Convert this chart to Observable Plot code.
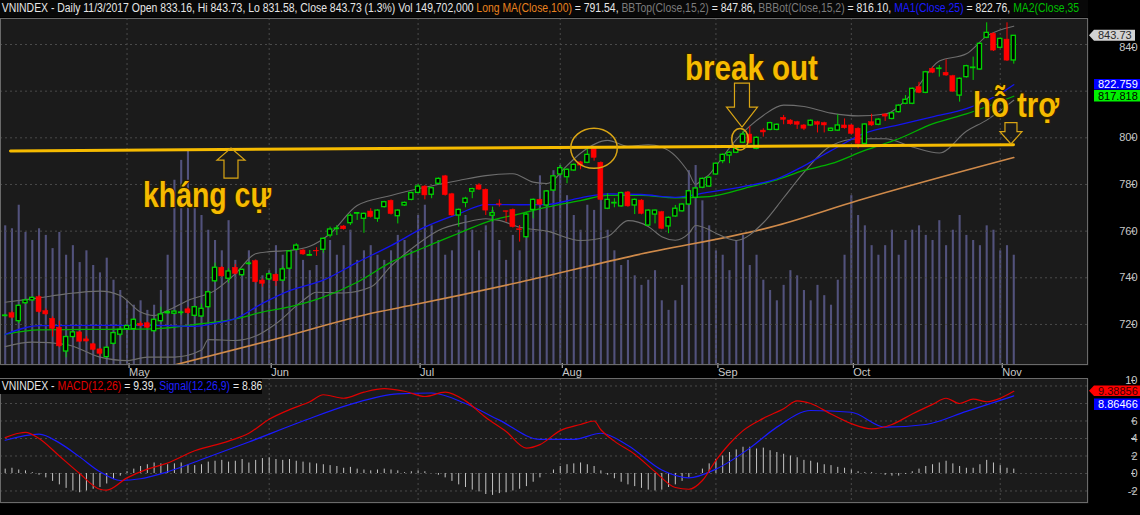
<!DOCTYPE html>
<html><head><meta charset="utf-8">
<script src="https://cdn.jsdelivr.net/npm/d3@7"></script>
<script src="https://cdn.jsdelivr.net/npm/@observablehq/plot@0.6"></script>
<style>
html,body{margin:0;padding:0;background:#000;}
#wrap{position:relative;width:1140px;height:515px;overflow:hidden;background:#000;}
.layer{position:absolute;left:0;}
.hdr{position:absolute;left:0;overflow:hidden;clip-path:inset(0 0 0 0);white-space:nowrap;font-family:'Liberation Sans',Arial,sans-serif;font-size:12px;color:#e6e6e6;}
.hdr .in{transform-origin:0 0;display:inline-block;padding-left:2px;}
</style></head>
<body><div id="wrap">
<div id="vol" class="layer" style="top:0"></div>
<div id="main" class="layer" style="top:0"></div>
<div id="macd" class="layer" style="top:378px"></div>
<div class="hdr" style="top:0;width:1088px;height:17px;line-height:17px;background:#080808;">
 <div class="in" style="transform:scaleX(0.868)">VNINDEX - Daily 11/3/2017 Open 833.16, Hi 843.73, Lo 831.58, Close 843.73 (1.3%) Vol 149,702,000 <span style="color:#e8821e">Long MA(Close,100)</span> = 791.54, <span style="color:#7c7c7c">BBTop(Close,15,2)</span> = 847.86, <span style="color:#7c7c7c">BBBot(Close,15,2)</span> = 816.10, <span style="color:#1c1cff">MA1(Close,25)</span> = 822.76, <span style="color:#00c000">MA2(Close,35</span></div>
</div>
<div class="hdr" style="top:379px;width:262px;height:15px;line-height:15px;background:#000;">
 <div class="in" style="transform:scaleX(0.87)">VNINDEX - <span style="color:#e00000">MACD(12,26)</span> = 9.39, <span style="color:#2020ff">Signal(12,26,9)</span> = 8.86</div>
</div>
</div>
<script>
const FONT = "'Liberation Sans', Arial, sans-serif";
const GREEN = "#00d400", RED = "#ff0000";

// ---------- data ----------
const open = [723.6,724.8,721.4,729.1,730.3,731.7,725.7,722.4,718.6,708.4,
714.6,716.6,713.6,711.5,709.3,706.0,711.7,715.6,718.0,718.0,
720.3,720.5,717.1,721.4,724.8,724.6,724.9,726.5,723.7,723.4,
727.4,738.5,744.3,739.6,744.3,741.1,745.9,747.1,738.8,739.3,
741.3,738.8,743.9,752.0,751.7,749.5,751.5,752.0,758.1,760.9,
762.0,763.4,767.5,765.3,768.4,765.3,770.3,773.0,766.4,771.0,
773.4,776.4,779.1,775.6,780.3,783.5,775.8,766.7,772.1,776.9,
779.6,777.7,766.6,771.5,768.5,769.1,760.8,757.4,769.1,773.4,
771.0,777.4,784.3,783.1,786.0,789.5,789.3,795.3,789.3,769.6,
771.9,770.6,776.6,771.0,773.1,762.4,767.1,768.1,762.0,766.3,
768.5,771.4,774.3,778.6,779.1,784.3,790.0,792.4,793.6,797.9,
801.4,795.3,803.1,803.4,803.4,808.6,807.4,806.7,805.3,805.3,
806.7,806.3,803.0,803.1,805.3,805.3,803.9,797.4,806.7,805.6,
810.0,808.1,811.0,814.6,814.6,821.7,819.3,829.6,829.5,827.9,
826.4,818.1,826.0,829.9,829.3,842.9,844.6,838.6,842.1,833.16];
const high = [724.3,725.7,728.3,730.8,731.7,732.4,726.7,723.2,721.4,715.0,
717.0,717.0,714.8,711.9,709.7,710.4,716.6,718.6,719.8,722.4,
721.1,721.0,722.4,727.4,725.8,726.0,725.8,727.4,727.8,728.7,
734.2,746.3,744.8,743.9,745.7,743.8,746.8,747.6,739.5,742.0,
741.7,744.5,751.7,754.6,752.1,751.7,752.9,757.1,761.7,762.4,
762.4,767.4,767.9,767.8,769.6,769.2,772.8,773.4,769.2,772.5,
776.7,780.0,779.5,778.8,782.8,783.9,776.2,769.5,774.5,778.4,
780.3,778.1,770.3,773.4,768.6,769.5,762.4,767.5,773.8,773.8,
777.4,783.9,788.1,786.7,788.8,789.9,795.3,795.7,789.7,776.0,
773.9,776.7,777.0,773.8,773.5,769.2,769.1,768.5,766.1,771.0,
771.8,777.5,778.7,782.8,783.3,789.3,793.1,794.0,795.7,802.8,
804.8,800.4,803.9,806.7,806.0,809.6,807.8,807.1,805.7,807.7,
807.1,806.7,804.3,809.9,808.1,805.7,804.3,806.1,810.1,808.2,
810.4,810.9,814.2,818.1,821.4,823.8,828.5,830.3,831.0,833.4,
826.8,825.7,831.1,834.6,840.7,849.3,845.0,842.8,849.3,843.73];
const low = [723.2,722.4,720.3,728.5,730.0,724.8,723.8,714.6,710.0,705.7,
714.2,712.2,712.4,708.7,706.3,705.6,711.3,714.6,717.6,717.6,
719.1,718.2,716.8,721.0,724.4,724.2,723.8,724.3,723.3,723.0,
727.0,738.0,740.2,737.7,741.3,740.7,745.3,737.7,736.0,738.9,
736.3,738.4,743.5,751.4,749.6,749.2,749.2,750.5,757.1,758.1,
760.4,762.4,764.6,759.1,765.6,763.8,769.9,766.9,763.1,770.6,
773.0,776.0,773.4,773.9,779.9,775.0,766.3,761.7,770.0,773.9,
777.4,766.7,763.8,770.3,763.8,761.3,755.3,757.0,765.3,770.9,
770.6,777.0,783.7,780.3,785.6,786.3,788.9,790.0,773.0,769.2,
770.0,770.2,770.2,767.1,767.0,762.0,763.1,760.6,758.9,765.9,
768.1,771.0,773.9,778.2,778.7,783.9,788.9,788.9,793.2,797.5,
797.3,794.9,800.3,803.0,803.0,805.6,805.4,803.6,803.1,804.9,
802.1,802.1,802.6,802.7,803.7,801.3,795.3,797.0,804.9,805.2,
807.0,807.7,810.6,814.2,814.2,818.9,818.9,827.5,826.0,826.3,
819.4,815.3,825.6,824.6,828.9,842.5,837.0,838.2,832.7,831.58];
const close = [723.8,722.9,728.0,730.3,731.4,725.3,724.3,718.1,710.6,714.6,
716.6,712.6,712.7,709.1,707.4,710.0,716.3,717.7,719.3,722.0,
719.4,718.6,722.0,724.3,725.3,725.5,725.1,724.8,727.4,726.7,
733.8,744.3,740.6,742.7,741.7,743.4,746.1,738.1,737.4,741.5,
738.5,743.6,751.3,753.8,750.0,749.7,751.3,756.7,760.7,761.1,
760.8,766.6,767.7,767.4,766.0,768.8,772.4,767.3,768.8,772.1,
776.3,779.1,775.3,778.4,782.4,775.4,766.7,769.1,773.9,778.0,
777.8,768.8,767.7,771.3,768.3,761.7,760.4,767.1,773.4,771.3,
777.0,783.5,787.0,786.3,788.4,788.1,792.7,791.4,773.4,773.4,
772.1,776.3,770.6,773.4,767.4,768.8,768.8,761.0,765.7,769.6,
771.4,777.1,778.3,782.4,782.9,788.9,792.7,793.6,795.3,801.4,
797.7,800.0,802.3,806.3,805.6,807.7,805.8,805.6,803.9,807.3,
805.6,805.3,803.9,805.3,804.1,801.7,797.4,805.7,805.3,807.8,
809.1,810.5,813.8,816.3,821.0,819.3,828.1,827.9,829.7,826.7,
819.8,825.3,830.7,830.1,840.3,845.0,837.4,842.4,833.1,843.73];
// volume, millions of shares
const volume = [190,186,218,181,170,186,177,159,181,150,163,140,156,136,126,146,116,102,
88,82,88,75,82,102,150,252,279,292,224,204,184,170,156,197,143,129,
156,143,122,129,163,150,136,156,143,129,136,156,170,150,163,184,143,156,
163,150,143,156,177,170,156,204,218,190,170,150,156,184,204,184,156,190,
211,170,143,177,156,184,211,258,238,265,272,231,204,184,218,211,265,184,
156,136,143,122,109,116,129,88,75,88,109,265,272,224,190,156,150,129,
170,177,136,150,116,102,88,109,129,122,102,88,109,95,82,116,150,231,
204,190,163,150,163,184,150,170,184,190,177,170,197,163,184,204,177,170,
163,190,184,156,163,150];
// indicator lines, [candle index, value]
const ma1 = [[0,715.7],[5,719.5],[15,719.6],[22,719.6],[28,719.2],[31,720.5],[34,722.5],[38,729],[42,734.5],[47,739],[52,746.6],[57,753.8],[62,761.7],[67,767.4],[71,771.4],[76,771.3],[80,771.4],[85,774.3],[89,776],[94,775.7],[99,774.5],[104,776.7],[109,779.1],[114,782.4],[118,788],[122,794.5],[127,802],[132,805.6],[137,809],[142,812.5],[147,819],[149,822.76]];
const ma2 = [[0,715.8],[5,717.7],[15,717.9],[22,718.1],[29,720.3],[34,722.4],[38,725.3],[42,727.5],[47,731.7],[52,738.1],[57,746.7],[62,753.1],[67,759.1],[71,763.8],[76,767.4],[80,770.3],[85,773.1],[89,775.3],[94,775.3],[99,774.3],[104,774.8],[110,779],[114,782],[118,786],[122,788.9],[127,794.6],[132,799.6],[137,806],[142,810.3],[149,817.82]];
const longMA = [[25,702.6],[39,713],[55,725.3],[60,728.2],[76,738.1],[93,749.6],[114,762.4],[126,773.1],[149,791.54]];
const bbTop = [[0,729.5],[5,731.4],[9,733.1],[14,734.3],[17,732.4],[20,725.3],[22,723.8],[24,726],[27,730.3],[31,734.6],[34,741.7],[37,750.3],[39,751.2],[42,751.7],[45,753.5],[48,758.9],[52,771],[57,775.3],[62,778.8],[67,781.7],[71,783.8],[75,784.6],[78,781],[80,780.4],[83,788.1],[85,793.4],[89,798.9],[92,796.4],[95,797],[97,796],[99,792.3],[100,789],[101,785],[102,780],[103,782.2],[104,784.2],[105,787.9],[108,799.2],[110,805],[112,809.6],[115,814],[118,813.4],[122,810.6],[126,809.4],[130,810.2],[134,819],[138,832.9],[142,836],[145,843.6],[149,847.86]];
const bbBot = [[0,710.5],[4,712.4],[9,711.4],[14,706],[18,704.5],[21,706],[25,706],[29,709],[30,713.5],[34,713.1],[37,715],[40,720.3],[44,730.3],[46,733.8],[50,733.5],[54,736],[57,745],[61,754.6],[64,760.3],[68,763.8],[71,765.3],[73,764.6],[76,761.7],[80,760],[85,756],[89,757.7],[92,764.5],[95,762],[97,757.6],[99,756.1],[101,759],[102,762.4],[104,760.6],[105,759.1],[108,756],[112,763.6],[115,774.3],[118,785.2],[122,796.6],[126,799.6],[130,799.6],[134,796.1],[138,793.5],[142,802.8],[145,807.6],[149,816.1]];
const macdLine = [[0,4.1],[2,4.6],[3,4.7],[5,4.0],[8,2.0],[11,0.0],[14,-1.8],[15,-1.9],[18,-0.5],[21,0.5],[24,1.2],[28,2.6],[33,3.7],[36,4.6],[39,6.2],[42,7.3],[45,8.2],[47,9.0],[50,8.6],[53,9.3],[56,9.7],[59,9.4],[62,8.8],[65,9.3],[68,8.3],[71,6.4],[74,4.8],[77,2.9],[79,3.3],[82,4.9],[85,5.6],[87,6.0],[88,5.0],[90,3.7],[93,2.2],[96,0.2],[99,-1.6],[101,-1.8],[103,-0.8],[105,1.5],[107,3.4],[109,4.9],[112,6.3],[115,7.4],[117,8.3],[119,8.0],[122,6.8],[125,5.7],[128,5.1],[131,5.6],[134,6.8],[137,7.9],[139,8.6],[141,8.0],[143,8.5],[145,8.2],[147,8.6],[149,9.38856]];
const signalLine = [[0,3.8],[5,4.5],[8,3.5],[11,1.9],[14,0.2],[17,-0.8],[20,-0.6],[24,0.2],[29,1.6],[36,3.6],[44,6.0],[51,7.9],[58,9.1],[63,9.2],[68,8.0],[73,6.1],[79,3.9],[84,3.9],[88,4.6],[92,3.2],[97,0.4],[101,-0.5],[105,0.5],[110,2.9],[114,5.3],[119,7.2],[125,7.0],[130,5.3],[136,5.6],[142,7.1],[149,8.86466]];
const histogram = [0.5,0.6,0.4,0.3,0.1,-0.2,-0.5,-0.9,-1.3,
-1.7,-2.0,-2.2,-2.0,-1.8,-1.6,-1.2,-0.7,-0.3,
0.2,0.5,0.8,1.0,1.2,1.1,1.0,1.1,1.2,1.0,0.9,1.0,1.3,
1.4,1.5,1.3,1.4,1.6,1.2,1.5,1.7,1.8,1.6,1.5,1.6,1.4,1.3,1.2,
1.1,1.0,0.9,0.8,0.6,0.7,0.5,0.4,0.3,0.4,0.5,0.4,0.3,0.1,0.2,
0.3,0.2,0.0,-0.2,-0.5,-0.9,-1.3,-1.6,-1.9,-2.1,-2.4,-2.5,-2.3,-2.2,-2.0,
-1.8,-1.5,-1.0,-0.5,0.0,0.4,0.8,1.0,1.1,1.2,1.0,0.8,0.3,-0.2,-0.6,
-1.0,-1.3,-1.5,-1.7,-1.9,-2.0,-1.9,-1.6,-1.3,-0.9,-0.5,0.0,0.5,1.1,
1.6,2.0,2.4,2.7,3.0,3.0,2.8,2.9,2.6,2.4,2.2,2.0,1.8,1.5,1.4,1.2,
1.0,0.9,0.7,0.6,0.4,0.2,0.1,0.1,0.0,-0.2,-0.3,-0.3,-0.1,0.2,0.5,
0.8,1.0,1.2,1.4,1.1,0.8,0.6,0.6,1.0,1.5,1.2,0.9,0.6,0.5];
const monthIdx = [18,39,61,82,105,125,147];
const monthNames = ["May","Jun","Jul","Aug","Sep","Oct","Nov"];
const priceTicks = [720,740,760,780,800,820,840];
const priceLabelTicks = [720,740,760,780,800];   // 820 sits under the MA boxes
const priceTopTick = [840];                      // partly under the close box
const macdTicks = [-2,0,2,4,6,8,10];
const macdLabelTicks = [-2,0,2,4,6];             // 8 sits under the signal box
const macdTopTick = [10];
const lastValues = {close: 843.73, ma1: 822.759, ma2: 817.818, macd: 9.38856, signal: 8.86466};
// annotations (anchored in data units)
const resistance = [[0.78,794.34],[43.6,795.2],[95.3,796.06],[117.5,796.49],[148.96,797.0]];
const arrowTips = [{i:33.43,v:795.41,dir:"up"},{i:108.92,v:804.41,dir:"down"},{i:148.66,v:797.13,dir:"down"}];
const rings = [{i:87.06,v:795.29},{i:108.63,v:799.19}];
const notes = [{i:20.43,v:770.13,text:"kháng cự"},{i:100.5,v:824.56,text:"break out"},{i:143.05,v:808.83,text:"hỗ trợ"}];

// ---------- styles ----------
const X_DOMAIN = [-0.694, 160.04];
const arrowSize = [{hw:14,hh:12,sw:7,sl:18},{hw:15.5,hh:20,sw:7.5,sl:24},{hw:11,hh:12.3,sw:6,sl:9}];
const ringSize = [{rx:23.3,ry:20},{rx:8.3,ry:10.8}];
const noteWidth = [128,133,86];
const GOLD = "#f6bb00", ARROW = "#d9a514";
const axisStyle = {anchor: "right", label: null, tickSize: 4, tickPadding: 3, textAnchor: "end", dx: 42, color: "#c8c8c8", fontSize: 11, tickFormat: d => String(d)};

const pts = a => a.map(([i, v]) => ({i, v}));
const candles = open.map((o, i) => ({i, o, h: high[i], l: low[i], c: close[i]}));
const upC = candles.filter(d => d.c >= d.o), dnC = candles.filter(d => d.c < d.o);

function borders(index, scales, values, dims) {
  const {width, height, marginLeft, marginRight, marginTop, marginBottom} = dims;
  const g = d3.create("svg:g").attr("fill", "none").attr("stroke", "#6a6a6a");
  g.append("rect").attr("x", marginLeft + 0.5).attr("y", marginTop + 0.5)
    .attr("width", width - marginLeft - marginRight - 1).attr("height", height - marginTop - marginBottom - 1);
  return g.node();
}
function sideLabels(specs) {
  return (index, scales, values, dims) => {
    const g = d3.create("svg:g").attr("font-family", FONT).attr("font-size", 11).attr("text-anchor", "start");
    const xR = dims.width - dims.marginRight;
    for (const s of specs) {
      const yc = scales.y(s.value) + (s.dy || 0);
      const t = yc - s.h / 2, b = yc + s.h / 2, xa = xR + 6, xb = xR + s.w;
      const d = s.arrow ? `M${xR + 1},${yc}L${xa},${t}H${xb}V${b}H${xa}Z` : `M${xa},${t}H${xb}V${b}H${xa}Z`;
      g.append("path").attr("d", d).attr("fill", s.fill).attr("stroke", s.stroke || "none");
      g.append("text").attr("x", xR + 10).attr("y", yc).attr("dy", "0.36em").attr("text-anchor", "start").attr("fill", s.color).text(s.text);
    }
    return g.node();
  };
}
function annotations(index, {x, y}) {
  const g = d3.create("svg:g").attr("text-anchor", "start");
  arrowTips.forEach((a, k) => {
    const s = arrowSize[k], tx = x(a.i), ty = y(a.v), dir = a.dir === "up" ? 1 : -1;
    const hy = ty + dir * s.hh, sy = hy + dir * s.sl;
    g.append("path").attr("fill", "none").attr("stroke", ARROW).attr("stroke-width", 1.2)
      .attr("d", `M${tx},${ty}L${tx + s.hw},${hy}L${tx + s.sw},${hy}L${tx + s.sw},${sy}L${tx - s.sw},${sy}L${tx - s.sw},${hy}L${tx - s.hw},${hy}Z`);
  });
  rings.forEach((r, k) => {
    g.append("ellipse").attr("cx", x(r.i)).attr("cy", y(r.v)).attr("rx", ringSize[k].rx).attr("ry", ringSize[k].ry)
      .attr("fill", "none").attr("stroke", ARROW).attr("stroke-width", 1.5);
  });
  notes.forEach((n, k) => {
    g.append("text").attr("x", x(n.i)).attr("y", y(n.v)).attr("text-anchor", "start").text(n.text)
      .attr("font-family", FONT).attr("font-weight", "bold").attr("font-size", 35)
      .attr("textLength", noteWidth[k]).attr("lengthAdjust", "spacingAndGlyphs")
      .attr("fill", GOLD).attr("stroke", "#2a1e00").attr("stroke-width", 2.5).attr("paint-order", "stroke");
  });
  return g.node();
}

const common = {width: 1140, marginLeft: 0, marginRight: 52};

const volPlot = Plot.plot({
  ...common, height: 378, marginTop: 18, marginBottom: 13,
  style: {background: "#000"},
  x: {domain: X_DOMAIN, axis: null},
  y: {domain: [0, 472], axis: null},
  marks: [
    Plot.frame({fill: "#1b1b1b"}),
    Plot.ruleX(volume.map((v, i) => ({i, v})), {x: "i", y1: 0, y2: "v", stroke: "#52527c", strokeWidth: 2.1})
  ]
});
document.getElementById("vol").appendChild(volPlot);

const mainPlot = Plot.plot({
  ...common, height: 378, marginTop: 18, marginBottom: 13,
  style: {background: "transparent", fontFamily: FONT, fontSize: "11px", color: "#c8c8c8", overflow: "visible"},
  x: {domain: X_DOMAIN, label: null},
  y: {domain: [702.4, 851.15], label: null},
  marks: [
    Plot.gridY(priceTicks, {stroke: "#4a4a4a", strokeOpacity: 1, strokeDasharray: "2,3"}),
    Plot.gridX(monthIdx, {stroke: "#4a4a4a", strokeOpacity: 1, strokeDasharray: "2,3"}),
    Plot.axisY(priceLabelTicks, axisStyle),
    Plot.axisY(priceTopTick, {...axisStyle, dy: 3}),
    Plot.axisX(monthIdx, {anchor: "bottom", label: null, tickSize: 5, tickPadding: 0, textAnchor: "start", dx: 2, dy: -2, color: "#c8c8c8", fontSize: 11, tickFormat: d => monthNames[monthIdx.indexOf(d)]}),
    Plot.line(pts(longMA), {x: "i", y: "v", stroke: "#cf8a4a", strokeWidth: 1.6, curve: "monotone-x", clip: true}),
    Plot.line(pts(bbTop), {x: "i", y: "v", stroke: "#6e6e6e", strokeWidth: 1.1, curve: "monotone-x", clip: true}),
    Plot.line(pts(bbBot), {x: "i", y: "v", stroke: "#6e6e6e", strokeWidth: 1.1, curve: "monotone-x", clip: true}),
    Plot.line(pts(ma2), {x: "i", y: "v", stroke: "#00b300", strokeWidth: 1.3, curve: "monotone-x", clip: true}),
    Plot.line(pts(ma1), {x: "i", y: "v", stroke: "#1414f0", strokeWidth: 1.3, curve: "monotone-x", clip: true}),
    Plot.ruleX(upC, {x: "i", y1: "l", y2: "h", stroke: GREEN, strokeWidth: 1}),
    Plot.ruleX(dnC, {x: "i", y1: "l", y2: "h", stroke: RED, strokeWidth: 1}),
    Plot.rect(dnC, {x1: d => d.i - 0.37, x2: d => d.i + 0.37, y1: "o", y2: "c", fill: RED, stroke: RED, strokeWidth: 0.5}),
    Plot.rect(upC, {x1: d => d.i - 0.31, x2: d => d.i + 0.31, y1: "o", y2: "c", fill: "#000", stroke: GREEN, strokeWidth: 1.3}),
    Plot.line(pts(resistance), {x: "i", y: "v", stroke: GOLD, strokeWidth: 3}),
    annotations,
    borders,
    sideLabels([
      {value: lastValues.close, text: "843.73", fill: "#d2d2d2", color: "#2a2a2a", arrow: true, w: 47, h: 11},
      {value: lastValues.ma1, text: "822.759", fill: "#0000ff", color: "#ffffff", w: 52, h: 10.5},
      {value: lastValues.ma2, text: "817.818", fill: "#00f000", color: "#000000", w: 52, h: 11.5}
    ])
  ]
});
document.getElementById("main").appendChild(mainPlot);

const macdPlot = Plot.plot({
  ...common, height: 137, marginTop: 0, marginBottom: 12,
  style: {background: "#000", fontFamily: FONT, fontSize: "11px", color: "#c8c8c8", overflow: "visible"},
  x: {domain: X_DOMAIN, axis: null, label: null},
  y: {domain: [-3.429, 10.857], label: null},
  marks: [
    Plot.frame({fill: "#1b1b1b"}),
    Plot.gridY(macdTicks, {stroke: "#4a4a4a", strokeOpacity: 1, strokeDasharray: "2,3"}),
    Plot.gridX(monthIdx, {stroke: "#4a4a4a", strokeOpacity: 1, strokeDasharray: "2,3"}),
    Plot.ruleX(histogram.map((v, i) => ({i, v})), {x: "i", y1: 0, y2: "v", stroke: "#c4c4c4", strokeWidth: 1}),
    Plot.line(pts(signalLine), {x: "i", y: "v", stroke: "#1a1aff", strokeWidth: 1.2, curve: "monotone-x"}),
    Plot.line(pts(macdLine), {x: "i", y: "v", stroke: "#e00000", strokeWidth: 1.2, curve: "monotone-x"}),
    Plot.axisY(macdLabelTicks, axisStyle),
    Plot.axisY(macdTopTick, {...axisStyle, dy: -5.5}),
    borders,
    sideLabels([
      {value: lastValues.macd, text: "9.38856", fill: "#ff0000", color: "#3a0000", arrow: true, w: 52, h: 10.5},
      {value: lastValues.signal, dy: 8.8, text: "8.86466", fill: "#0000ff", color: "#ffffff", w: 52, h: 11.5}
    ])
  ]
});
document.getElementById("macd").appendChild(macdPlot);
</script>
</body></html>
